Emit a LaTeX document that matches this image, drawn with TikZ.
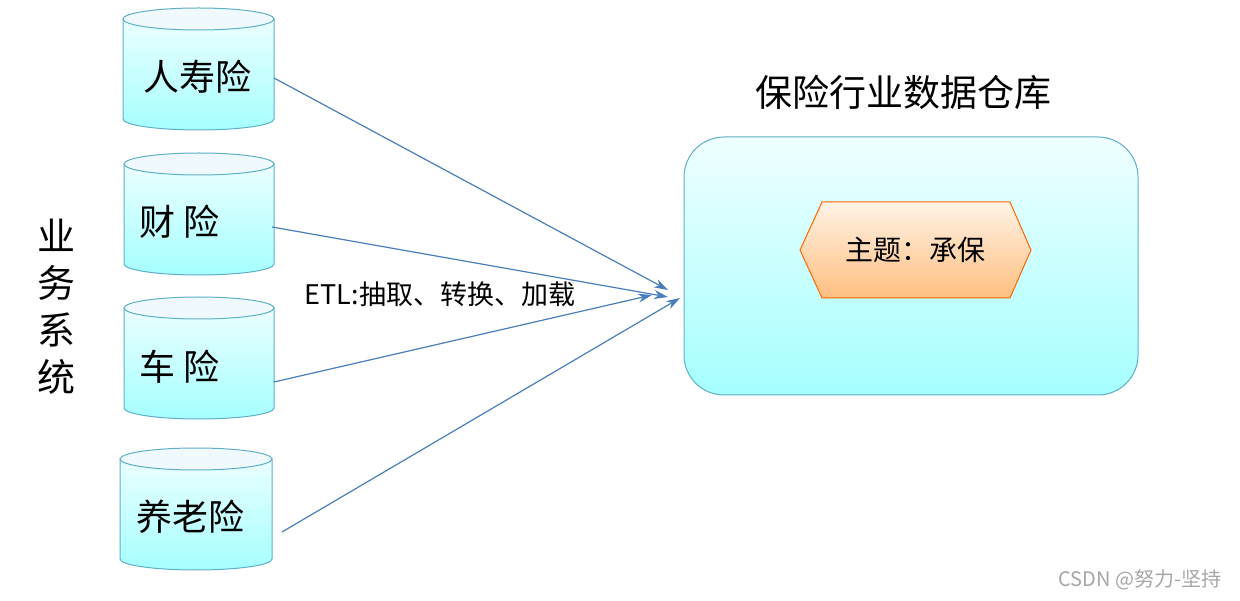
\documentclass[tikz,border=0pt]{standalone}
\usepackage{fontspec}
\setmainfont{Noto Sans CJK SC}
\usetikzlibrary{arrows.meta}
\definecolor{cylb}{HTML}{5FAFC8}
\definecolor{arr}{HTML}{4A7EBB}
\tikzset{
  lbl/.style={inner sep=0pt,font=\fontsize{36}{38}\selectfont},
  etl/.style={-{Stealth[length=14pt,width=9pt]},draw=arr,line width=1.2pt},
}
\newcommand{\cyl}[4]{% x1 x2 ytop ybot
  \shade[top color=cyan!8,bottom color=cyan!35!white,draw=cylb,line width=1pt]
   (#1,#3) -- (#1,#4) arc[start angle=180,end angle=0,x radius={(#2-#1)/2},y radius=11] -- (#2,#3) -- cycle;
  \filldraw[fill=cyan!6,draw=cylb,line width=1pt] ({(#1+#2)/2},#3) ellipse[x radius={(#2-#1)/2},y radius=11];
}
\begin{document}
\begin{tikzpicture}[x=1pt,y=-1pt]
\useasboundingbox (0,0) rectangle (1240,601);
\cyl{123}{274}{19}{119}
\cyl{124}{274}{164}{264}
\cyl{124}{274}{308}{408}
\cyl{120}{272}{459}{559}
\node[lbl] (a) at (197,77) {人寿险};
\node[lbl] (b) at (180,222) {财 险};
\node[lbl] (c) at (180,367) {车 险};
\node[lbl] (d) at (190,517) {养老险};
\node[lbl,align=center,font=\fontsize{38}{47}\selectfont] (sys) at (56,307) {业\\务\\系\\统};
\node[lbl,font=\fontsize{37}{40}\selectfont] (title) at (903,92) {保险行业数据仓库};
\shade[top color=cyan!6,bottom color=cyan!35!white,draw=cylb,line width=1pt,rounded corners=40pt]
  (684,137) rectangle (1138,395);
\shade[top color=orange!10,bottom color=orange!50!white,draw=orange!80!red,line width=1pt]
  (800,250) -- (822,202) -- (1010,202) -- (1031,250) -- (1010,298) -- (822,298) -- cycle;
\node[lbl,font=\fontsize{28}{30}\selectfont] (topic) at (915,250) {主题：承保};
\coordinate (t1) at (668,290);
\coordinate (t2) at (668,297);
\coordinate (t3) at (652,295);
\coordinate (t4) at (680,298);
\draw[etl] (274,78) -- (t1);
\draw[etl] (272,227) -- (t2);
\draw[etl] (274,382) -- (t3);
\draw[etl] (282,532) -- (t4);
\node[lbl,font=\fontsize{27}{29}\selectfont] (etl) at (440,294) {ETL:抽取、转换、加载};
\node[lbl,font=\fontsize{20}{22}\selectfont,text=gray!70] (wm) at (1140,580) {CSDN @努力-坚持};
\end{tikzpicture}
\end{document}
